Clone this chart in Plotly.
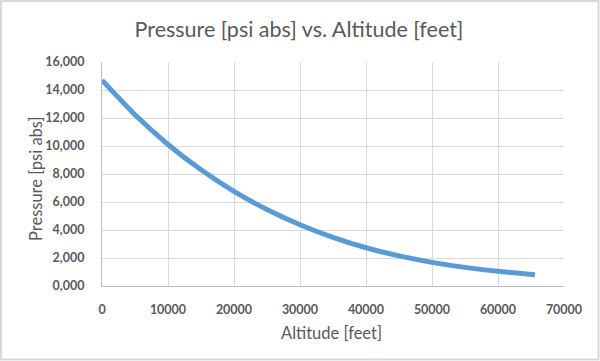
import plotly.graph_objects as go

altitude_ft = [0, 5000, 10000, 15000, 20000, 25000, 30000, 35000, 40000, 45000, 50000, 55000, 60000, 65600]
pressure_psi = [14.70, 12.23, 10.11, 8.30, 6.76, 5.46, 4.37, 3.47, 2.73, 2.15, 1.69, 1.33, 1.05, 0.80]
x_ticks = [0, 10000, 20000, 30000, 40000, 50000, 60000, 70000]
y_ticks = [0, 2, 4, 6, 8, 10, 12, 14, 16]

title_text = "Pressure [psi abs] vs. Altitude [feet]"
x_title = "Altitude [feet]"
y_title = "Pressure [psi abs]"

W, H = 600, 361
L, R, T, B = 102, 36, 62, 75
pw, ph = W - L - R, H - T - B


def px_x(p):
    return (p - L) / pw


def px_y(p):
    return (H - B - p) / ph


fig = go.Figure()
fig.add_trace(go.Scatter(
    x=altitude_ft, y=pressure_psi, mode="lines",
    line=dict(color="#5b9bd5", width=5, shape="spline", smoothing=0.6),
    showlegend=False, hoverinfo="skip",
))

fig.update_layout(
    width=W, height=H,
    margin=dict(l=L, r=R, t=T, b=B, autoexpand=False),
    paper_bgcolor="white", plot_bgcolor="white",
    separators=",.",
    font=dict(family="Lato, 'Open Sans', sans-serif", color="#595959"),
    title=dict(text=title_text, x=299 / W, xanchor="center", y=1 - 29 / H, yanchor="middle",
               font=dict(size=21.5, color="#595959")),
    xaxis=dict(
        range=[0, 70000], tickvals=x_ticks,
        tickformat="d", showgrid=True, gridcolor="#d9d9d9", gridwidth=1,
        showline=True, linecolor="#bfbfbf", linewidth=1, zeroline=False,
        ticks="", ticklabelstandoff=12,
        tickfont=dict(size=12.5, color="#595959", weight="bold"),
    ),
    yaxis=dict(
        range=[0, 16], tickvals=y_ticks,
        tickformat=".3f", showgrid=True, gridcolor="#d9d9d9", gridwidth=1,
        showline=True, linecolor="#bfbfbf", linewidth=1, zeroline=False,
        ticks="", ticklabelstandoff=14,
        tickfont=dict(size=12.5, color="#595959", weight="bold"),
    ),
    annotations=[
        dict(text=x_title, xref="paper", yref="paper", x=px_x(331), y=px_y(333),
             xanchor="center", yanchor="middle", showarrow=False,
             font=dict(size=16.5, color="#595959")),
        dict(text=y_title, xref="paper", yref="paper", x=px_x(36), y=px_y(179),
             xanchor="center", yanchor="middle", showarrow=False, textangle=-90,
             font=dict(size=16.5, color="#595959")),
    ],
    shapes=[dict(
        type="rect", xref="paper", yref="paper",
        x0=-(L - 1) / pw, x1=1 + (R - 1.5) / pw,
        y0=-(B - 1.5) / ph, y1=1 + (T - 1) / ph,
        line=dict(color="#d9d9d9", width=2), fillcolor="rgba(0,0,0,0)", layer="below",
    )],
)

fig.write_html("out.html", config={"displayModeBar": False},
               post_script="document.body.style.margin='0';document.body.style.padding='0';")
